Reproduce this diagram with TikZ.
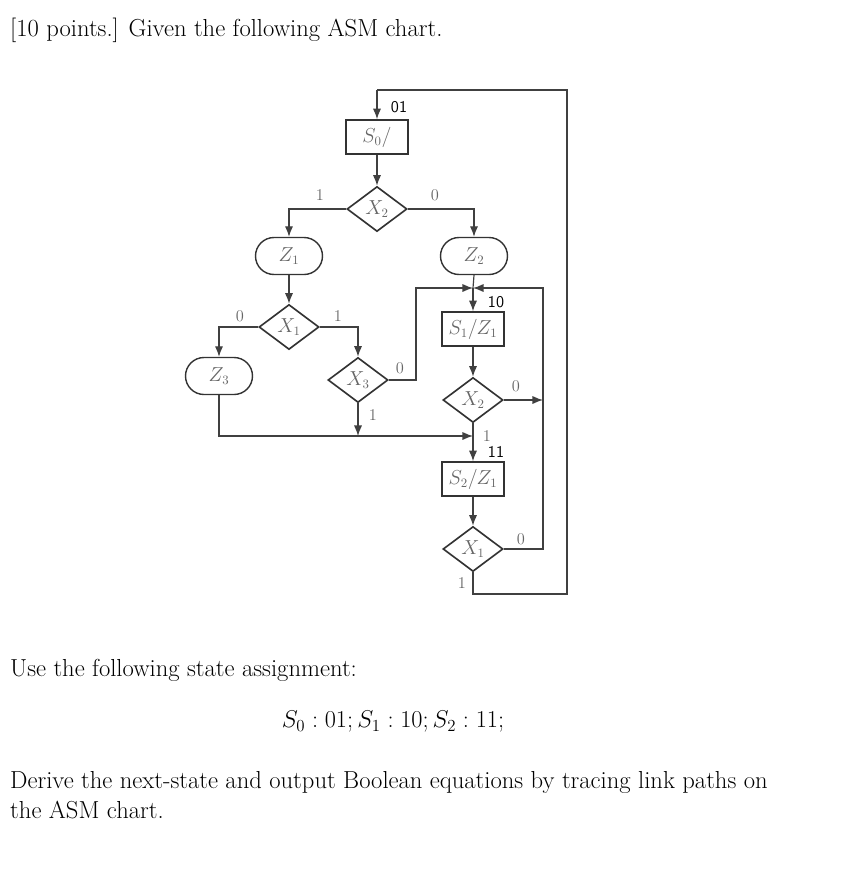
\documentclass[tikz,border=0pt]{standalone}
\usetikzlibrary{shapes.geometric,shapes.misc,arrows.meta}
\begin{document}
\begin{tikzpicture}[x=0.03cm,y=-0.03cm,
 box/.style={draw=black!80,line width=1.4pt,minimum width=62*0.03cm,minimum height=34*0.03cm,inner sep=0pt,text=gray!80!black,font=\fontsize{16}{18}\selectfont},
 dia/.style={draw=black!80,diamond,line width=1.4pt,minimum width=60*0.03cm,minimum height=45*0.03cm,inner sep=0pt,text=gray!80!black,font=\fontsize{16}{18}\selectfont},
 cond/.style={draw=black!80,rounded rectangle,line width=1.2pt,minimum width=67*0.03cm,minimum height=37*0.03cm,inner sep=0pt,text=gray!80!black,font=\fontsize{16}{18}\selectfont},
 lab/.style={text=gray!80!black,font=\fontsize{14}{16}\selectfont,inner sep=0pt},
 code/.style={font=\sffamily\fontsize{14}{16}\selectfont,inner sep=0pt},
 ln/.style={line width=1pt,draw=black!75},
 ar/.style={ln,-{Latex[length=9pt,width=7pt]}},
 txt/.style={font=\fontsize{21}{25}\selectfont,anchor=west,inner sep=0pt}]
\useasboundingbox (0,0) rectangle (858,884);
\node[txt] (t1) at (10,30) {[10 points.] Given the following ASM chart.};
\node[box] (s0) at (377,137) {$S_0/$};
\node[dia] (x2a) at (377,209) {$X_2$};
\node[cond] (z1) at (289,256) {$Z_1$};
\node[cond] (z2) at (474,256) {$Z_2$};
\node[box] (s1) at (473,329) {$S_1/Z_1$};
\node[dia] (x1a) at (289,327) {$X_1$};
\node[cond] (z3) at (219,376) {$Z_3$};
\node[dia] (x3) at (358,380) {$X_3$};
\node[dia] (x2b) at (473,400) {$X_2$};
\node[box] (s2) at (473,479) {$S_2/Z_1$};
\node[dia] (x1b) at (473,549) {$X_1$};
\coordinate (top) at (377,90);
\coordinate (j1) at (473,288);
\coordinate (j2) at (473,436);
\coordinate (jx3) at (358,436);
\coordinate (rr) at (543,400);
% connectors
\draw[ar] (top) -- (s0.north);
\draw[ar] (s0.south) -- (x2a.north);
\draw[ar] (x2a.west) -| (z1.north);
\draw[ar] (x2a.east) -| (z2.north);
\draw[ar] (z1.south) -- (x1a.north);
\draw[ar] (x1a.west) -| (z3.north);
\draw[ar] (x1a.east) -| (x3.north);
\draw[ln] (z2.south) -- (j1);
\draw[ar] (j1) -- (s1.north);
\draw[ar] (x3.east) -- (416,380) -- (416,288) -- (j1);
\draw[ar] (s1.south) -- (x2b.north);
\draw[ar] (x2b.east) -- (rr);
\draw[ar] (x1b.east) -- (543,549) -- (543,288) -- (j1);
\draw[ar] (x3.south) -- (jx3);
\draw[ar] (z3.south) |- (j2);
\draw[ln] (x2b.south) -- (j2);
\draw[ar] (j2) -- (s2.north);
\draw[ar] (s2.south) -- (x1b.north);
\draw[ln] (x1b.south) -- (473,594) -- (567,594) -- (567,90) -- (top);
% labels
\node[code] (c01) at (399,107) {01};
\node[code] (c10) at (496,302) {10};
\node[code] (c11) at (496,452) {11};
\node[lab] (l1) at (320,195) {1};
\node[lab] (l2) at (435,195) {0};
\node[lab] (l3) at (240,316) {0};
\node[lab] (l4) at (338,316) {1};
\node[lab] (l5) at (400,368) {0};
\node[lab] (l6) at (373,415) {1};
\node[lab] (l7) at (516,386) {0};
\node[lab] (l8) at (487,436) {1};
\node[lab] (l9) at (521,539) {0};
\node[lab] (l10) at (462,583) {1};
% bottom text
\node[txt] (t2) at (10,670) {Use the following state assignment:};
\node[txt,anchor=center] (t3) at (393,722) {$S_0: 01; S_1: 10; S_2: 11;$};
\node[txt] (t4) at (10,782) {Derive the next-state and output Boolean equations by tracing link paths on};
\node[txt] (t5) at (10,810) {the ASM chart.};
\end{tikzpicture}
\end{document}
